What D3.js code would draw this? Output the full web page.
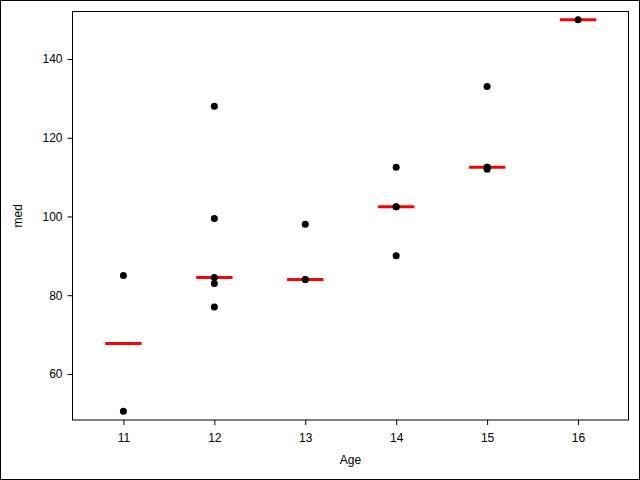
<!DOCTYPE html>
<html>
<head>
<meta charset="utf-8">
<script src="https://cdn.jsdelivr.net/npm/d3@7"></script>
<style>
  body { margin: 0; background: #fff; }
  svg { display: block; font-family: "Liberation Sans", Arial, sans-serif; }
</style>
</head>
<body>
<svg></svg>
<script>
const [svgWidth, svgHeight] = [640, 480];

// sashelp.class style data: age and weight
const ages = [14, 13, 13, 14, 14, 12, 12, 15, 13, 12, 11, 14, 12, 15, 16, 12, 15, 11, 15];
const weights = [112.5, 84, 98, 102.5, 102.5, 83, 84.5, 112.5, 84, 99.5, 50.5, 90, 77, 112, 150, 128, 133, 85, 112.5];
const xTicks = [11, 12, 13, 14, 15, 16];
const yTicks = [60, 80, 100, 120, 140];

const svg = d3.select('svg')
  .attr('width', svgWidth)
  .attr('height', svgHeight);

const margin = { left: 72.5, top: 11.5, right: 628.5, bottom: 420 };

const x = d3.scaleLinear()
  .domain([10.44, 16.555])
  .range([margin.left, margin.right]);
const y = d3.scaleLinear()
  .domain([48.3, 152.07])
  .range([margin.bottom, margin.top]);

// outer border
svg.append('rect')
  .attr('x', 0.5).attr('y', 0.5)
  .attr('width', svgWidth - 1).attr('height', svgHeight - 1)
  .attr('fill', '#fff').attr('stroke', '#000');

// plot frame
svg.append('rect')
  .attr('x', margin.left).attr('y', margin.top)
  .attr('width', margin.right - margin.left)
  .attr('height', margin.bottom - margin.top)
  .attr('fill', 'none').attr('stroke', '#000');

const xAxis = svg.append('g')
  .attr('transform', `translate(0, ${margin.bottom})`)
  .call(d3.axisBottom(x).tickValues(xTicks).tickSize(5).tickPadding(8).tickFormat(d3.format('d')));
const yAxis = svg.append('g')
  .attr('transform', `translate(${margin.left}, 0)`)
  .call(d3.axisLeft(y).tickValues(yTicks).tickSize(5).tickPadding(5).tickFormat(d3.format('d')));

[xAxis, yAxis].forEach(a => {
  a.select('.domain').remove();
  a.selectAll('text')
    .attr('font-family', '"Liberation Sans", Arial, sans-serif')
    .attr('font-size', 12)
    .attr('fill', '#000');
  a.selectAll('line').attr('stroke', '#000');
});

svg.append('text')
  .attr('x', (margin.left + margin.right) / 2)
  .attr('y', 464)
  .attr('text-anchor', 'middle')
  .attr('font-size', 12)
  .text('Age');
svg.append('text')
  .attr('transform', `translate(22, ${(margin.top + margin.bottom) / 2}) rotate(-90)`)
  .attr('text-anchor', 'middle')
  .attr('font-size', 12)
  .text('med');

// medians per age
const medians = d3.rollups(
  ages.map((a, i) => ({ age: a, w: weights[i] })),
  v => d3.median(v, d => d.w),
  d => d.age
).sort((a, b) => a[0] - b[0]);

svg.append('g')
  .selectAll('line')
  .data(medians)
  .enter()
  .append('line')
  .attr('x1', d => x(d[0] - 0.2))
  .attr('x2', d => x(d[0] + 0.2))
  .attr('y1', d => y(d[1]))
  .attr('y2', d => y(d[1]))
  .attr('stroke', '#ff0000')
  .attr('stroke-width', 3);

svg.append('g')
  .selectAll('circle')
  .data(ages)
  .enter()
  .append('circle')
  .attr('cx', d => x(d))
  .attr('cy', (d, i) => y(weights[i]))
  .attr('r', 3.5)
  .attr('fill', '#000');
</script>
</body>
</html>
